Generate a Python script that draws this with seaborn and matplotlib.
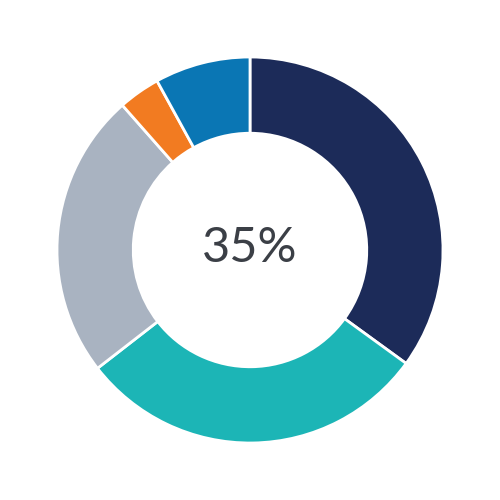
import matplotlib
matplotlib.use("Agg")
import matplotlib.pyplot as plt
import seaborn as sns

# slice shares, clockwise from 12 o'clock
segments = ["Navy", "Teal", "Gray", "Orange", "Blue"]
shares = [35, 29.5, 24, 3.5, 8]
colors = ["#1c2b59", "#1cb5b6", "#a9b3c1", "#f27b21", "#0a76b4"]
center_label = "35%"

sns.set_theme(style="white")
plt.rcParams['font.family'] = ['Lato', 'DejaVu Sans']

fig = plt.figure(figsize=(5, 5), dpi=100)
ax = fig.add_axes([0, 0, 1, 1])

ax.pie(
    shares,
    colors=sns.color_palette(colors),
    startangle=90,
    counterclock=False,
    radius=1,
    wedgeprops=dict(width=0.395, edgecolor="white", linewidth=2),
)
ax.text(0, 0.01, center_label, ha="center", va="center",
        fontsize=35, fontweight="normal", color="#3b3f46")

lim = 250 / 193
ax.set_xlim(-lim, lim)
ax.set_ylim(-lim, lim)
ax.set_aspect("equal")
ax.axis("off")

fig.savefig("out.png", dpi=100, facecolor="white")
